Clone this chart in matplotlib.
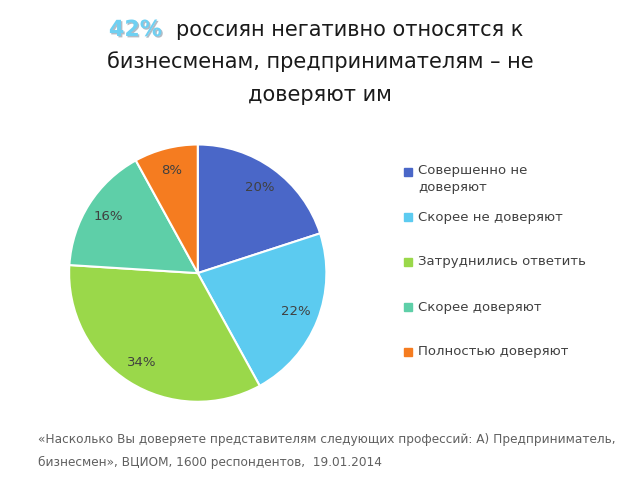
import matplotlib
matplotlib.use("Agg")
import matplotlib.pyplot as plt
import matplotlib.patheffects as pe
from matplotlib.patches import Rectangle

labels = ["Совершенно не\nдоверяют", "Скорее не доверяют", "Затруднились ответить", "Скорее доверяют", "Полностью доверяют"]
values = [20, 22, 34, 16, 8]
colors = ["#4a67c8", "#5ccbf0", "#9ad84a", "#5ecfa8", "#f57c20"]

fig = plt.figure(figsize=(6.4, 4.8), dpi=100)
fig.patch.set_facecolor("white")
ax = fig.add_axes([0.106, 0.160, 0.406, 0.542])
ax.pie(values, colors=colors, startangle=90, counterclock=False,
       autopct=lambda p: f"{p:.0f}%", pctdistance=0.82,
       wedgeprops=dict(edgecolor="white", linewidth=1.5),
       textprops=dict(fontsize=9.5, color="#404040"))
ax.set_aspect("equal")
ax.set_xlim(-1.01, 1.01)
ax.set_ylim(-1.01, 1.01)

# legend
ys = [172, 217, 262, 307, 352]
for lab, c, y in zip(labels, colors, ys):
    fig.patches.append(Rectangle((404/640, 1-(y+4)/480), 8/640, 8/480, color=c, transform=fig.transFigure))
    fig.text(418/640, 1-y/480, lab, fontsize=9.5, color="#404040", va="top" if "\n" in lab else "center",
             linespacing=1.45)
fig.texts[0].set_position((418/640, 1-164/480))

# title
fig.text(162/640, 1-30/480, "42%", fontsize=16, fontweight="bold", color="#6fd0f2", ha="right", va="center",
         path_effects=[pe.withSimplePatchShadow(offset=(1, -1), shadow_rgbFace="#8090a0", alpha=0.6)])
fig.text(176/640, 1-30/480, "россиян негативно относятся к", fontsize=15, color="#1a1a1a", ha="left", va="center")
fig.text(0.5, 1-62/480, "бизнесменам, предпринимателям – не", fontsize=15, color="#1a1a1a", ha="center", va="center")
fig.text(0.5, 1-95/480, "доверяют им", fontsize=15, color="#1a1a1a", ha="center", va="center")

# footer
fig.text(38/640, 1-440/480, "«Насколько Вы доверяете представителям следующих профессий: А) Предприниматель,",
         fontsize=8.7, color="#606060", va="center")
fig.text(38/640, 1-462/480, "бизнесмен», ВЦИОМ, 1600 респондентов,  19.01.2014",
         fontsize=8.7, color="#606060", va="center")

fig.savefig("out.png", dpi=100)
